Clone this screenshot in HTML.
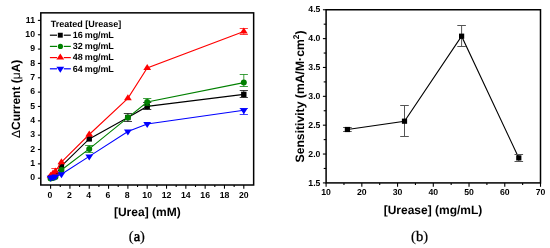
<!DOCTYPE html>
<html><head><meta charset="utf-8"><style>
html,body{margin:0;padding:0;background:#fff;width:550px;height:248px;overflow:hidden}
svg{display:block;text-rendering:geometricPrecision}
.tk{font-family:'Liberation Sans',Arial,sans-serif;font-weight:bold;font-size:8.7px;fill:#000}
.lg{font-family:'Liberation Sans',Arial,sans-serif;font-weight:bold;font-size:9px;fill:#000;letter-spacing:-0.15px}
.ax{font-family:'Liberation Sans',Arial,sans-serif;font-weight:bold;font-size:12px;fill:#000}
.cap{font-family:'Liberation Serif','Times New Roman',serif;font-size:14.5px;fill:#000;stroke:#000;stroke-width:0.2px}
</style></head><body>
<svg width="550" height="248" viewBox="0 0 550 248">
<defs><clipPath id="clipL"><rect x="40.8" y="12.85" width="212.85000000000002" height="172.15"/></clipPath></defs>
<rect width="550" height="248" fill="#fff"/>
<rect x="40.80" y="12.85" width="212.85" height="172.15" fill="none" stroke="#000" stroke-width="1.5"/>
<line x1="37.90" y1="178.20" x2="40.80" y2="178.20" stroke="#000" stroke-width="1.1"/>
<text x="35.0" y="180.30" text-anchor="end" class="tk">0</text>
<line x1="37.90" y1="163.85" x2="40.80" y2="163.85" stroke="#000" stroke-width="1.1"/>
<text x="35.0" y="165.95" text-anchor="end" class="tk">1</text>
<line x1="37.90" y1="149.51" x2="40.80" y2="149.51" stroke="#000" stroke-width="1.1"/>
<text x="35.0" y="151.61" text-anchor="end" class="tk">2</text>
<line x1="37.90" y1="135.16" x2="40.80" y2="135.16" stroke="#000" stroke-width="1.1"/>
<text x="35.0" y="137.26" text-anchor="end" class="tk">3</text>
<line x1="37.90" y1="120.82" x2="40.80" y2="120.82" stroke="#000" stroke-width="1.1"/>
<text x="35.0" y="122.92" text-anchor="end" class="tk">4</text>
<line x1="37.90" y1="106.47" x2="40.80" y2="106.47" stroke="#000" stroke-width="1.1"/>
<text x="35.0" y="108.57" text-anchor="end" class="tk">5</text>
<line x1="37.90" y1="92.13" x2="40.80" y2="92.13" stroke="#000" stroke-width="1.1"/>
<text x="35.0" y="94.23" text-anchor="end" class="tk">6</text>
<line x1="37.90" y1="77.78" x2="40.80" y2="77.78" stroke="#000" stroke-width="1.1"/>
<text x="35.0" y="79.88" text-anchor="end" class="tk">7</text>
<line x1="37.90" y1="63.44" x2="40.80" y2="63.44" stroke="#000" stroke-width="1.1"/>
<text x="35.0" y="65.54" text-anchor="end" class="tk">8</text>
<line x1="37.90" y1="49.09" x2="40.80" y2="49.09" stroke="#000" stroke-width="1.1"/>
<text x="35.0" y="51.19" text-anchor="end" class="tk">9</text>
<line x1="37.90" y1="34.75" x2="40.80" y2="34.75" stroke="#000" stroke-width="1.1"/>
<text x="35.0" y="36.85" text-anchor="end" class="tk">10</text>
<line x1="37.90" y1="20.40" x2="40.80" y2="20.40" stroke="#000" stroke-width="1.1"/>
<text x="35.0" y="22.50" text-anchor="end" class="tk">11</text>
<line x1="50.60" y1="185.00" x2="50.60" y2="188.70" stroke="#000" stroke-width="1.1"/>
<text x="50.00" y="197.5" text-anchor="middle" class="tk">0</text>
<line x1="60.26" y1="185.00" x2="60.26" y2="187.00" stroke="#000" stroke-width="1.1"/>
<line x1="69.92" y1="185.00" x2="69.92" y2="188.70" stroke="#000" stroke-width="1.1"/>
<text x="69.32" y="197.5" text-anchor="middle" class="tk">2</text>
<line x1="79.58" y1="185.00" x2="79.58" y2="187.00" stroke="#000" stroke-width="1.1"/>
<line x1="89.24" y1="185.00" x2="89.24" y2="188.70" stroke="#000" stroke-width="1.1"/>
<text x="88.64" y="197.5" text-anchor="middle" class="tk">4</text>
<line x1="98.90" y1="185.00" x2="98.90" y2="187.00" stroke="#000" stroke-width="1.1"/>
<line x1="108.56" y1="185.00" x2="108.56" y2="188.70" stroke="#000" stroke-width="1.1"/>
<text x="107.96" y="197.5" text-anchor="middle" class="tk">6</text>
<line x1="118.22" y1="185.00" x2="118.22" y2="187.00" stroke="#000" stroke-width="1.1"/>
<line x1="127.88" y1="185.00" x2="127.88" y2="188.70" stroke="#000" stroke-width="1.1"/>
<text x="127.28" y="197.5" text-anchor="middle" class="tk">8</text>
<line x1="137.54" y1="185.00" x2="137.54" y2="187.00" stroke="#000" stroke-width="1.1"/>
<line x1="147.20" y1="185.00" x2="147.20" y2="188.70" stroke="#000" stroke-width="1.1"/>
<text x="147.20" y="197.5" text-anchor="middle" class="tk">10</text>
<line x1="156.86" y1="185.00" x2="156.86" y2="187.00" stroke="#000" stroke-width="1.1"/>
<line x1="166.52" y1="185.00" x2="166.52" y2="188.70" stroke="#000" stroke-width="1.1"/>
<text x="166.52" y="197.5" text-anchor="middle" class="tk">12</text>
<line x1="176.18" y1="185.00" x2="176.18" y2="187.00" stroke="#000" stroke-width="1.1"/>
<line x1="185.84" y1="185.00" x2="185.84" y2="188.70" stroke="#000" stroke-width="1.1"/>
<text x="185.84" y="197.5" text-anchor="middle" class="tk">14</text>
<line x1="195.50" y1="185.00" x2="195.50" y2="187.00" stroke="#000" stroke-width="1.1"/>
<line x1="205.16" y1="185.00" x2="205.16" y2="188.70" stroke="#000" stroke-width="1.1"/>
<text x="205.16" y="197.5" text-anchor="middle" class="tk">16</text>
<line x1="214.82" y1="185.00" x2="214.82" y2="187.00" stroke="#000" stroke-width="1.1"/>
<line x1="224.48" y1="185.00" x2="224.48" y2="188.70" stroke="#000" stroke-width="1.1"/>
<text x="224.48" y="197.5" text-anchor="middle" class="tk">18</text>
<line x1="234.14" y1="185.00" x2="234.14" y2="187.00" stroke="#000" stroke-width="1.1"/>
<line x1="243.80" y1="185.00" x2="243.80" y2="188.70" stroke="#000" stroke-width="1.1"/>
<text x="243.80" y="197.5" text-anchor="middle" class="tk">20</text>
<rect x="326.10" y="9.75" width="214.40" height="173.15" fill="none" stroke="#000" stroke-width="1.5"/>
<line x1="322.90" y1="182.90" x2="326.10" y2="182.90" stroke="#000" stroke-width="1.1"/>
<text x="320.4" y="185.60" text-anchor="end" class="tk">1.5</text>
<line x1="323.70" y1="168.47" x2="326.10" y2="168.47" stroke="#000" stroke-width="1.1"/>
<line x1="322.90" y1="154.04" x2="326.10" y2="154.04" stroke="#000" stroke-width="1.1"/>
<text x="320.4" y="156.74" text-anchor="end" class="tk">2.0</text>
<line x1="323.70" y1="139.61" x2="326.10" y2="139.61" stroke="#000" stroke-width="1.1"/>
<line x1="322.90" y1="125.18" x2="326.10" y2="125.18" stroke="#000" stroke-width="1.1"/>
<text x="320.4" y="127.88" text-anchor="end" class="tk">2.5</text>
<line x1="323.70" y1="110.75" x2="326.10" y2="110.75" stroke="#000" stroke-width="1.1"/>
<line x1="322.90" y1="96.33" x2="326.10" y2="96.33" stroke="#000" stroke-width="1.1"/>
<text x="320.4" y="99.03" text-anchor="end" class="tk">3.0</text>
<line x1="323.70" y1="81.90" x2="326.10" y2="81.90" stroke="#000" stroke-width="1.1"/>
<line x1="322.90" y1="67.47" x2="326.10" y2="67.47" stroke="#000" stroke-width="1.1"/>
<text x="320.4" y="70.17" text-anchor="end" class="tk">3.5</text>
<line x1="323.70" y1="53.04" x2="326.10" y2="53.04" stroke="#000" stroke-width="1.1"/>
<line x1="322.90" y1="38.61" x2="326.10" y2="38.61" stroke="#000" stroke-width="1.1"/>
<text x="320.4" y="41.31" text-anchor="end" class="tk">4.0</text>
<line x1="323.70" y1="24.18" x2="326.10" y2="24.18" stroke="#000" stroke-width="1.1"/>
<line x1="322.90" y1="9.75" x2="326.10" y2="9.75" stroke="#000" stroke-width="1.1"/>
<text x="320.4" y="12.45" text-anchor="end" class="tk">4.5</text>
<line x1="326.10" y1="182.90" x2="326.10" y2="186.80" stroke="#000" stroke-width="1.1"/>
<text x="326.10" y="195.4" text-anchor="middle" class="tk">10</text>
<line x1="343.97" y1="182.90" x2="343.97" y2="185.00" stroke="#000" stroke-width="1.1"/>
<line x1="361.83" y1="182.90" x2="361.83" y2="186.80" stroke="#000" stroke-width="1.1"/>
<text x="361.83" y="195.4" text-anchor="middle" class="tk">20</text>
<line x1="379.70" y1="182.90" x2="379.70" y2="185.00" stroke="#000" stroke-width="1.1"/>
<line x1="397.57" y1="182.90" x2="397.57" y2="186.80" stroke="#000" stroke-width="1.1"/>
<text x="397.57" y="195.4" text-anchor="middle" class="tk">30</text>
<line x1="415.43" y1="182.90" x2="415.43" y2="185.00" stroke="#000" stroke-width="1.1"/>
<line x1="433.30" y1="182.90" x2="433.30" y2="186.80" stroke="#000" stroke-width="1.1"/>
<text x="433.30" y="195.4" text-anchor="middle" class="tk">40</text>
<line x1="451.17" y1="182.90" x2="451.17" y2="185.00" stroke="#000" stroke-width="1.1"/>
<line x1="469.03" y1="182.90" x2="469.03" y2="186.80" stroke="#000" stroke-width="1.1"/>
<text x="469.03" y="195.4" text-anchor="middle" class="tk">50</text>
<line x1="486.90" y1="182.90" x2="486.90" y2="185.00" stroke="#000" stroke-width="1.1"/>
<line x1="504.77" y1="182.90" x2="504.77" y2="186.80" stroke="#000" stroke-width="1.1"/>
<text x="504.77" y="195.4" text-anchor="middle" class="tk">60</text>
<line x1="522.63" y1="182.90" x2="522.63" y2="185.00" stroke="#000" stroke-width="1.1"/>
<line x1="540.50" y1="182.90" x2="540.50" y2="186.80" stroke="#000" stroke-width="1.1"/>
<text x="540.50" y="195.4" text-anchor="middle" class="tk">70</text>
<g clip-path="url(#clipL)">
<polyline points="50.60,177.60 53.02,176.60 55.43,175.00 61.42,166.00 89.24,138.90 127.88,117.50 147.20,106.40 243.80,94.40" fill="none" stroke="#000000" stroke-width="1.1"/>
<rect x="47.90" y="174.90" width="5.4" height="5.4" fill="#000000"/>
<rect x="50.31" y="173.90" width="5.4" height="5.4" fill="#000000"/>
<rect x="52.73" y="172.30" width="5.4" height="5.4" fill="#000000"/>
<rect x="58.72" y="163.30" width="5.4" height="5.4" fill="#000000"/>
<rect x="86.54" y="136.20" width="5.4" height="5.4" fill="#000000"/>
<line x1="127.88" y1="113.50" x2="127.88" y2="121.50" stroke="#000000" stroke-width="0.75"/><line x1="123.78" y1="113.50" x2="131.98" y2="113.50" stroke="#000000" stroke-width="0.75"/><line x1="123.78" y1="121.50" x2="131.98" y2="121.50" stroke="#000000" stroke-width="0.75"/>
<rect x="125.18" y="114.80" width="5.4" height="5.4" fill="#000000"/>
<line x1="147.20" y1="102.50" x2="147.20" y2="109.50" stroke="#000000" stroke-width="0.75"/><line x1="143.10" y1="102.50" x2="151.30" y2="102.50" stroke="#000000" stroke-width="0.75"/><line x1="143.10" y1="109.50" x2="151.30" y2="109.50" stroke="#000000" stroke-width="0.75"/>
<rect x="144.50" y="103.70" width="5.4" height="5.4" fill="#000000"/>
<line x1="243.80" y1="90.50" x2="243.80" y2="97.50" stroke="#000000" stroke-width="0.75"/><line x1="239.70" y1="90.50" x2="247.90" y2="90.50" stroke="#000000" stroke-width="0.75"/><line x1="239.70" y1="97.50" x2="247.90" y2="97.50" stroke="#000000" stroke-width="0.75"/>
<rect x="241.10" y="91.70" width="5.4" height="5.4" fill="#000000"/>
<polyline points="50.60,178.60 53.02,178.00 55.43,177.00 61.42,170.00 89.24,148.90 127.88,117.60 147.20,102.00 243.80,82.60" fill="none" stroke="#008000" stroke-width="1.1"/>
<circle cx="50.60" cy="178.60" r="3.0" fill="#008000"/>
<circle cx="53.02" cy="178.00" r="3.0" fill="#008000"/>
<circle cx="55.43" cy="177.00" r="3.0" fill="#008000"/>
<circle cx="61.42" cy="170.00" r="3.0" fill="#008000"/>
<line x1="89.24" y1="145.50" x2="89.24" y2="152.50" stroke="#008000" stroke-width="0.75"/><line x1="85.14" y1="145.50" x2="93.34" y2="145.50" stroke="#008000" stroke-width="0.75"/><line x1="85.14" y1="152.50" x2="93.34" y2="152.50" stroke="#008000" stroke-width="0.75"/>
<circle cx="89.24" cy="148.90" r="3.0" fill="#008000"/>
<circle cx="127.88" cy="117.60" r="3.0" fill="#008000"/>
<line x1="147.20" y1="98.50" x2="147.20" y2="105.50" stroke="#008000" stroke-width="0.75"/><line x1="143.10" y1="98.50" x2="151.30" y2="98.50" stroke="#008000" stroke-width="0.75"/><line x1="143.10" y1="105.50" x2="151.30" y2="105.50" stroke="#008000" stroke-width="0.75"/>
<circle cx="147.20" cy="102.00" r="3.0" fill="#008000"/>
<line x1="243.80" y1="74.50" x2="243.80" y2="86.50" stroke="#008000" stroke-width="0.75"/><line x1="239.70" y1="74.50" x2="247.90" y2="74.50" stroke="#008000" stroke-width="0.75"/><line x1="239.70" y1="86.50" x2="247.90" y2="86.50" stroke="#008000" stroke-width="0.75"/>
<circle cx="243.80" cy="82.60" r="3.0" fill="#008000"/>
<polyline points="50.60,175.80 53.02,173.60 55.43,171.40 61.42,162.20 89.24,134.50 127.88,98.30 147.20,67.90 243.80,31.40" fill="none" stroke="#ff0000" stroke-width="1.1"/>
<polygon points="50.60,171.80 54.50,177.80 46.70,177.80" fill="#ff0000"/>
<polygon points="53.02,169.60 56.91,175.60 49.12,175.60" fill="#ff0000"/>
<line x1="55.43" y1="168.50" x2="55.43" y2="174.50" stroke="#ff0000" stroke-width="0.75"/><line x1="51.33" y1="168.50" x2="59.53" y2="168.50" stroke="#ff0000" stroke-width="0.75"/><line x1="51.33" y1="174.50" x2="59.53" y2="174.50" stroke="#ff0000" stroke-width="0.75"/>
<polygon points="55.43,167.40 59.33,173.40 51.53,173.40" fill="#ff0000"/>
<polygon points="61.42,158.20 65.32,164.20 57.52,164.20" fill="#ff0000"/>
<polygon points="89.24,130.50 93.14,136.50 85.34,136.50" fill="#ff0000"/>
<polygon points="127.88,94.30 131.78,100.30 123.98,100.30" fill="#ff0000"/>
<polygon points="147.20,63.90 151.10,69.90 143.30,69.90" fill="#ff0000"/>
<line x1="243.80" y1="28.50" x2="243.80" y2="34.50" stroke="#ff0000" stroke-width="0.75"/><line x1="239.70" y1="28.50" x2="247.90" y2="28.50" stroke="#ff0000" stroke-width="0.75"/><line x1="239.70" y1="34.50" x2="247.90" y2="34.50" stroke="#ff0000" stroke-width="0.75"/>
<polygon points="243.80,27.40 247.70,33.40 239.90,33.40" fill="#ff0000"/>
<polyline points="50.60,177.80 53.02,177.20 55.43,176.40 61.42,174.30 89.24,156.40 127.88,131.60 147.20,124.00 243.80,110.30" fill="none" stroke="#0000ff" stroke-width="1.1"/>
<polygon points="50.60,181.80 54.50,175.80 46.70,175.80" fill="#0000ff"/>
<polygon points="53.02,181.20 56.91,175.20 49.12,175.20" fill="#0000ff"/>
<polygon points="55.43,180.40 59.33,174.40 51.53,174.40" fill="#0000ff"/>
<polygon points="61.42,178.30 65.32,172.30 57.52,172.30" fill="#0000ff"/>
<polygon points="89.24,160.40 93.14,154.40 85.34,154.40" fill="#0000ff"/>
<polygon points="127.88,135.60 131.78,129.60 123.98,129.60" fill="#0000ff"/>
<polygon points="147.20,128.00 151.10,122.00 143.30,122.00" fill="#0000ff"/>
<line x1="243.80" y1="108.50" x2="243.80" y2="114.50" stroke="#0000ff" stroke-width="0.75"/><line x1="239.70" y1="108.50" x2="247.90" y2="108.50" stroke="#0000ff" stroke-width="0.75"/><line x1="239.70" y1="114.50" x2="247.90" y2="114.50" stroke="#0000ff" stroke-width="0.75"/>
<polygon points="243.80,114.30 247.70,108.30 239.90,108.30" fill="#0000ff"/>
</g>
<text x="50.8" y="26.6" class="lg" style="letter-spacing:0">Treated [Urease]</text>
<line x1="49.9" y1="35.20" x2="57.0" y2="35.20" stroke="#000000" stroke-width="1.2"/>
<line x1="63.8" y1="35.20" x2="70.8" y2="35.20" stroke="#000000" stroke-width="1.2"/>
<rect x="57.85" y="32.75" width="4.9" height="4.9" fill="#000000"/>
<text x="72.8" y="38.00" class="lg">16 mg/mL</text>
<line x1="49.9" y1="46.40" x2="57.0" y2="46.40" stroke="#008000" stroke-width="1.2"/>
<line x1="63.8" y1="46.40" x2="70.8" y2="46.40" stroke="#008000" stroke-width="1.2"/>
<circle cx="60.40" cy="46.40" r="2.6" fill="#008000"/>
<text x="72.8" y="49.20" class="lg">32 mg/mL</text>
<line x1="49.9" y1="57.60" x2="57.0" y2="57.60" stroke="#ff0000" stroke-width="1.2"/>
<line x1="63.8" y1="57.60" x2="70.8" y2="57.60" stroke="#ff0000" stroke-width="1.2"/>
<polygon points="60.30,53.60 64.20,59.60 56.40,59.60" fill="#ff0000"/>
<text x="72.8" y="60.40" class="lg">48 mg/mL</text>
<line x1="49.9" y1="68.80" x2="57.0" y2="68.80" stroke="#0000ff" stroke-width="1.2"/>
<line x1="63.8" y1="68.80" x2="70.8" y2="68.80" stroke="#0000ff" stroke-width="1.2"/>
<polygon points="60.30,72.80 64.20,66.80 56.40,66.80" fill="#0000ff"/>
<text x="72.8" y="71.60" class="lg">64 mg/mL</text>
<polyline points="347.40,129.50 404.50,121.20 461.60,36.20 518.80,157.90" fill="none" stroke="#000" stroke-width="1.1"/>
<line x1="347.40" y1="127.50" x2="347.40" y2="131.50" stroke="#555" stroke-width="1.0"/><line x1="343.10" y1="127.50" x2="351.70" y2="127.50" stroke="#555" stroke-width="1.0"/><line x1="343.10" y1="131.50" x2="351.70" y2="131.50" stroke="#555" stroke-width="1.0"/>
<rect x="344.80" y="126.90" width="5.2" height="5.2" fill="#000"/>
<line x1="404.50" y1="105.50" x2="404.50" y2="136.50" stroke="#555" stroke-width="1.0"/><line x1="400.20" y1="105.50" x2="408.80" y2="105.50" stroke="#555" stroke-width="1.0"/><line x1="400.20" y1="136.50" x2="408.80" y2="136.50" stroke="#555" stroke-width="1.0"/>
<rect x="401.90" y="118.60" width="5.2" height="5.2" fill="#000"/>
<line x1="461.60" y1="25.50" x2="461.60" y2="46.50" stroke="#555" stroke-width="1.0"/><line x1="457.30" y1="25.50" x2="465.90" y2="25.50" stroke="#555" stroke-width="1.0"/><line x1="457.30" y1="46.50" x2="465.90" y2="46.50" stroke="#555" stroke-width="1.0"/>
<rect x="459.00" y="33.60" width="5.2" height="5.2" fill="#000"/>
<line x1="518.80" y1="154.50" x2="518.80" y2="161.50" stroke="#555" stroke-width="1.0"/><line x1="514.50" y1="154.50" x2="523.10" y2="154.50" stroke="#555" stroke-width="1.0"/><line x1="514.50" y1="161.50" x2="523.10" y2="161.50" stroke="#555" stroke-width="1.0"/>
<rect x="516.20" y="155.30" width="5.2" height="5.2" fill="#000"/>
<text x="147.3" y="215.5" text-anchor="middle" class="ax">[Urea] (mM)</text>
<text x="433.0" y="213.8" text-anchor="middle" class="ax">[Urease] (mg/mL)</text>
<text transform="translate(20.2,98.8) rotate(-90)" text-anchor="middle" class="ax"><tspan style="font-weight:normal">Δ</tspan>Current (<tspan style="font-weight:normal">μ</tspan>A)</text>
<text transform="translate(303.6,96.5) rotate(-90)" text-anchor="middle" class="ax" style="font-size:12.2px">Sensitivity (mA/M·cm<tspan dy="-4.2" style="font-size:8.4px">2</tspan><tspan dy="4.2">)</tspan></text>
<text x="136.9" y="241.3" text-anchor="middle" class="cap">(<tspan style="stroke-width:0.55px">a</tspan>)</text>
<text x="419.5" y="241.3" text-anchor="middle" class="cap">(<tspan style="stroke-width:0.35px">b</tspan>)</text>
</svg>
</body></html>
